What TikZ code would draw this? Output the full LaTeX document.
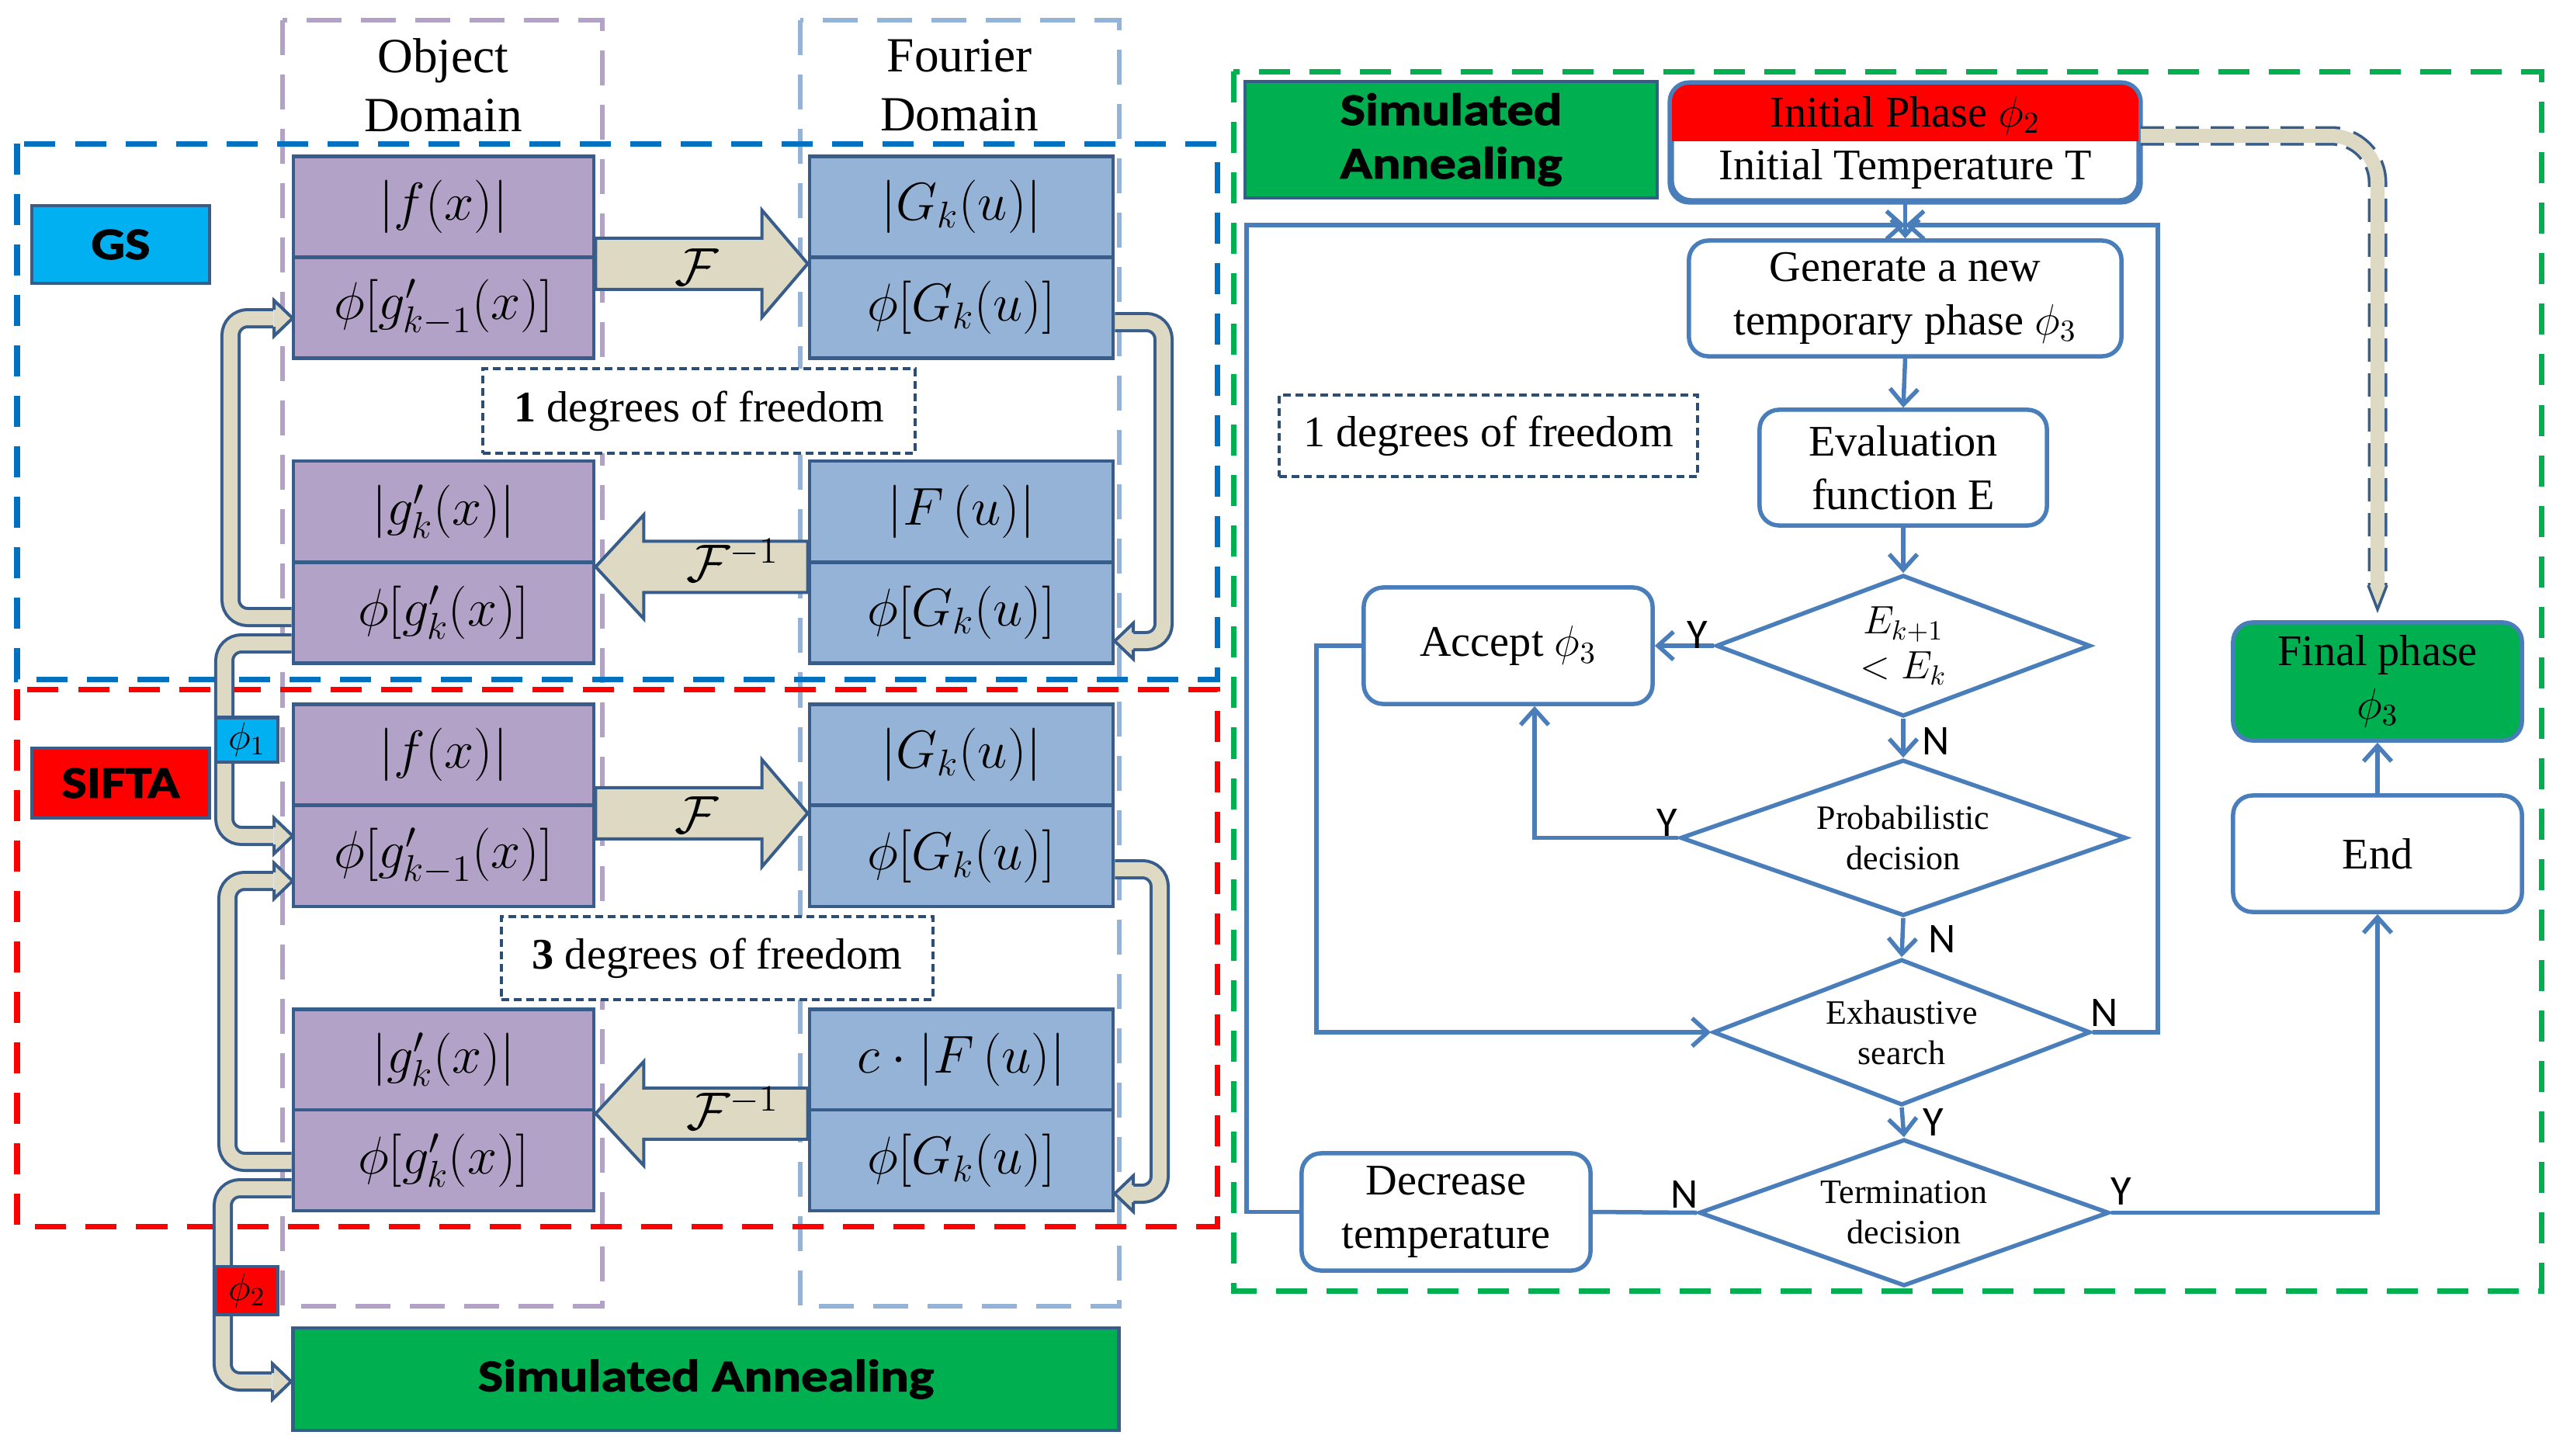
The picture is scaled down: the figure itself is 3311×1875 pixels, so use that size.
\RequirePackage{fix-cm}
\documentclass[tikz,border=0pt]{standalone}
\usepackage{fontspec}
\setmainfont{Liberation Serif}
\newfontfamily\lblfont[FakeStretch=1.18,BoldFeatures={FakeBold=2}]{Carlito}
\newfontfamily\ynfont{Carlito}
\usetikzlibrary{shapes.geometric,arrows.meta,calc}
\definecolor{purpleF}{HTML}{B3A2C7}
\definecolor{blueF}{HTML}{95B3D7}
\definecolor{bdr}{HTML}{385D8A}
\definecolor{beige}{HTML}{DDD9C3}
\definecolor{gsblue}{HTML}{0070C0}
\definecolor{redF}{HTML}{FF0000}
\definecolor{greenF}{HTML}{00B050}
\definecolor{cyanF}{HTML}{00B0F0}
\definecolor{flowc}{HTML}{4A7EBB}
\definecolor{dofc}{HTML}{2C4D75}
\newcommand{\fDom}{\fontsize{18}{21.6}\selectfont}
\newcommand{\fMath}{\fontsize{19.5}{22}\selectfont}
\newcommand{\fTxt}{\fontsize{16}{19.6}\selectfont}
\newcommand{\fDia}{\fontsize{12.5}{14.8}\selectfont}
\newcommand{\fLbl}{\fontsize{16.5}{19.6}\selectfont}
\newcommand{\fYN}{\fontsize{15.5}{18}\selectfont}
\newcommand{\fPhi}{\fontsize{14}{16}\selectfont}
\newcommand{\headR}[1]{%
 \fill[beige] ($(#1)+(-24,-23)$) -- (#1) -- ($(#1)+(-24,23)$) -- cycle;
 \draw[bdr,line width=0.04cm,line join=miter] ($(#1)+(-24,-11)$) -- ($(#1)+(-24,-23)$) -- (#1) -- ($(#1)+(-24,23)$) -- ($(#1)+(-24,11)$);}
\newcommand{\headL}[1]{%
 \fill[beige] ($(#1)+(24,-23)$) -- (#1) -- ($(#1)+(24,23)$) -- cycle;
 \draw[bdr,line width=0.04cm,line join=miter] ($(#1)+(24,-11)$) -- ($(#1)+(24,-23)$) -- (#1) -- ($(#1)+(24,23)$) -- ($(#1)+(24,11)$);}
\newcommand{\fatR}[2]{\draw[fat] ($(#1)+(0,-33)$) -- ($(#2)+(-59,-33)$) -- ($(#2)+(-59,-69)$) -- (#2) -- ($(#2)+(-59,69)$) -- ($(#2)+(-59,33)$) -- ($(#1)+(0,33)$) -- cycle;}
\newcommand{\fatL}[2]{\draw[fat] ($(#1)+(0,-33)$) -- ($(#2)+(62,-33)$) -- ($(#2)+(62,-67)$) -- (#2) -- ($(#2)+(62,67)$) -- ($(#2)+(62,33)$) -- ($(#1)+(0,33)$) -- cycle;}
\begin{document}
\begin{tikzpicture}[x=0.01cm,y=-0.01cm,
 pb/.style={draw=bdr,line width=0.045cm,fill=purpleF,minimum width=3.87cm,minimum height=1.3cm,inner sep=0pt,font=\fMath},
 bb/.style={pb,fill=blueF,minimum width=3.91cm},
 fat/.style={fill=beige,draw=bdr,line width=0.04cm,line join=miter},
 loopl/.style={draw=bdr,line width=0.04cm,double=beige,double distance=0.18cm,rounded corners=0.22cm},
 lbl/.style={draw=bdr,line width=0.045cm,font=\lblfont\bfseries\fLbl,inner sep=0pt,align=center},
 phib/.style={draw=bdr,line width=0.04cm,inner sep=0pt,font=\fPhi},
 dof/.style={draw=dofc,line width=0.035cm,dash pattern=on 0.1cm off 0.06cm,inner sep=0pt,font=\fTxt},
 coldash/.style={line width=0.06cm,dash pattern=on 0.45cm off 0.25cm},
 bigdash/.style={line width=0.07cm,dash pattern=on 0.4cm off 0.25cm},
 fbox/.style={draw=flowc,line width=0.055cm,rounded corners=0.25cm,fill=white,font=\fTxt,align=center,inner sep=0pt},
 dia/.style={diamond,draw=flowc,line width=0.055cm,fill=white,font=\fDia,align=center,inner sep=0pt,aspect=2.6},
 fl/.style={draw=flowc,line width=0.055cm},
 fla/.style={fl,-{Straight Barb[length=0.2cm,width=0.36cm]}},
 yn/.style={font=\ynfont\fYN,inner sep=0pt}]
\useasboundingbox (0,0) rectangle (3311,1875);
% ---------- left: domain columns and frames
\draw[coldash,draw=purpleF] (364,26) rectangle (776,1683);
\draw[coldash,draw=blueF] (1031,26) rectangle (1442,1683);
\node[font=\fDom,align=center] (objT) at (571,110) {Object\\Domain};
\node[font=\fDom,align=center] (fouT) at (1236,110) {Fourier\\Domain};
\draw[bigdash,draw=gsblue] (22,185) rectangle (1568,875);
\draw[bigdash,draw=redF] (22,888) rectangle (1568,1580);
\node[lbl,fill=cyanF,minimum width=2.29cm,minimum height=1.0cm] (gs) at (155.5,315) {GS};
\node[lbl,fill=redF,minimum width=2.29cm,minimum height=0.9cm] (sifta) at (155.5,1009) {SIFTA};
% ---------- boxes
\node[pb] (g1La) at (571.5,266.5) {$|f(x)|$};
\node[pb] (g1Lb) at (571.5,396.5) {$\phi[g'_{k-1}(x)]$};
\node[bb] (g1Ra) at (1238.5,266.5) {$|G_k(u)|$};
\node[bb] (g1Rb) at (1238.5,396.5) {$\phi[G_k(u)]$};
\node[pb] (g2La) at (571.5,659) {$|g'_k(x)|$};
\node[pb] (g2Lb) at (571.5,789.5) {$\phi[g'_k(x)]$};
\node[bb] (g2Ra) at (1238.5,659) {$|F\,(u)|$};
\node[bb] (g2Rb) at (1238.5,789.5) {$\phi[G_k(u)]$};
\node[pb] (s1La) at (571.5,972.5) {$|f(x)|$};
\node[pb] (s1Lb) at (571.5,1103) {$\phi[g'_{k-1}(x)]$};
\node[bb] (s1Ra) at (1238.5,972.5) {$|G_k(u)|$};
\node[bb] (s1Rb) at (1238.5,1103) {$\phi[G_k(u)]$};
\node[pb] (s2La) at (571.5,1365.5) {$|g'_k(x)|$};
\node[pb] (s2Lb) at (571.5,1495) {$\phi[g'_k(x)]$};
\node[bb] (s2Ra) at (1238.5,1365.5) {$c\cdot|F\,(u)|$};
\node[bb] (s2Rb) at (1238.5,1495) {$\phi[G_k(u)]$};
\node[lbl,fill=greenF,minimum width=10.63cm,minimum height=1.32cm] (saL) at (909.5,1777) {Simulated Annealing};
% ---------- loops
\draw[loopl] (g2Lb.west |- 0,795) -| (297,410) -- (352,410);
\coordinate (h1) at (377,410); \headR{h1}
\draw[loopl] (g1Rb.east |- 0,415) -| (1499,826) -- (1460,826);
\coordinate (h2) at (1436,826); \headL{h2}
\draw[loopl] (g2Lb.west |- 0,829) -| (289,1077) -- (352,1077);
\coordinate (h3) at (377,1077); \headR{h3}
\draw[loopl] (s2Lb.west |- 0,1497) -| (293,1135) -- (352,1135);
\coordinate (h4) at (377,1135); \headR{h4}
\draw[loopl] (s2Lb.west |- 0,1531) -| (287,1780) -- (350,1780);
\coordinate (h5) at (375,1780); \headR{h5}
\draw[loopl] (s1Rb.east |- 0,1120) -| (1494,1538) -- (1460,1538);
\coordinate (h6) at (1436,1538); \headL{h6}
\node[phib,fill=cyanF,minimum width=0.79cm,minimum height=0.57cm] (phi1) at (318,953) {$\phi_1$};
\node[phib,fill=redF,minimum width=0.8cm,minimum height=0.62cm] (phi2) at (318,1663) {$\phi_2$};
% ---------- fat arrows
\coordinate (fa1s) at ($(g1La.south east)+(0,6)$); \coordinate (fa1t) at ($(g1Ra.south west)+(0,6)$);
\fatR{fa1s}{fa1t}
\coordinate (fb1s) at ($(g2Ra.south west)+(0,4)$); \coordinate (fb1t) at ($(g2La.south east)+(0,4)$);
\fatL{fb1s}{fb1t}
\coordinate (fa2s) at ($(s1La.south east)+(0,8)$); \coordinate (fa2t) at ($(s1Ra.south west)+(0,8)$);
\fatR{fa2s}{fa2t}
\coordinate (fb2s) at ($(s2Ra.south west)+(0,2)$); \coordinate (fb2t) at ($(s2La.south east)+(0,2)$);
\fatL{fb2s}{fb2t}
\node[font=\fMath] (lF1) at (898,344) {$\mathcal{F}$};
\node[font=\fMath] (lF2) at (944,722) {$\mathcal{F}^{-1}$};
\node[font=\fMath] (lF3) at (898,1050) {$\mathcal{F}$};
\node[font=\fMath] (lF4) at (944,1428) {$\mathcal{F}^{-1}$};
\node[dof,fill=white,minimum width=5.57cm,minimum height=1.09cm] (dof1) at (900.5,529.5) {\textbf{1} degrees of freedom};
\node[dof,fill=white,minimum width=5.56cm,minimum height=1.07cm] (dof2) at (924,1234.5) {\textbf{3} degrees of freedom};
% ---------- right: simulated annealing flowchart
\draw[bigdash,draw=greenF] (1589,92) rectangle (3274,1663);
\node[lbl,fill=greenF,minimum width=5.31cm,minimum height=1.5cm] (saR) at (1869.5,180) {Simulated\\Annealing};
\node[fbox,minimum width=6.01cm,minimum height=1.49cm] (init) at (2454.5,183.5) {};
\begin{scope}
\clip (init.north west) rectangle (init.east |- 0,181);
\fill[redF,rounded corners=0.25cm] (init.north west) rectangle (init.south east);
\end{scope}
\draw[fl,rounded corners=0.25cm] (init.north west) rectangle (init.south east);
\node[font=\fTxt] (initA) at (2454.5,149) {Initial Phase $\phi_2$};
\node[font=\fTxt] (initB) at (2454.5,218) {Initial Temperature T};
\node[fbox,minimum width=5.57cm,minimum height=1.49cm] (gen) at (2454.5,384.5) {Generate a new\\temporary phase $\phi_3$};
\node[fbox,minimum width=3.70cm,minimum height=1.49cm] (eval) at (2452,602.5) {Evaluation\\function E};
\node[dof,minimum width=5.39cm,minimum height=1.05cm] (dof3) at (1917.5,561.5) {1 degrees of freedom};
\node[dia,minimum width=4.82cm,minimum height=1.82cm,font=\fontsize{14.5}{16.5}\selectfont] (d1) at (2452,832) {$E_{k+1}$\\$<E_k$};
\node[fbox,minimum width=3.72cm,minimum height=1.50cm] (acc) at (1943,832) {Accept $\phi_3$};
\node[dia,minimum width=5.74cm,minimum height=2.01cm] (d2) at (2452,1079.5) {Probabilistic\\decision};
\node[dia,minimum width=4.86cm,minimum height=1.88cm] (d3) at (2450,1330) {Exhaustive\\search};
\node[dia,minimum width=5.28cm,minimum height=1.89cm] (d4) at (2453,1562.5) {Termination\\decision};
\node[fbox,minimum width=3.72cm,minimum height=1.51cm] (dec) at (1863,1561.5) {Decrease\\temperature};
\node[fbox,minimum width=3.72cm,minimum height=1.50cm] (endb) at (3063,1100) {End};
\node[fbox,fill=greenF,minimum width=3.72cm,minimum height=1.52cm] (fin) at (3063,878) {Final phase\\$\phi_3$};
% connectors
\coordinate (topc) at (gen.north |- 0,290);
\draw[fla] (init.south) -- (gen.north);
\draw[fla] (dec.west) -| (1606,290) -- (topc);
\draw[fla] (d3.east) -| (2780,290) -- (topc);
\draw[fla] (gen.south) -- (eval.north);
\draw[fla] (eval.south) -- (d1.north);
\draw[fla] (d1.west) -- (acc.east);
\draw[fla] (d1.south) -- (d2.north);
\draw[fla] (d2.west) -| (acc.south -| 1977,0);
\draw[fla] (acc.west) -| (d3.west -| 1696,0) -- (d3.west);
\draw[fla] (d2.south) -- (d3.north);
\draw[fla] (d3.south) -- (d4.north);
\draw[fl] (d4.west) -- (dec.east);
\draw[fla] (d4.east) -| (endb.south);
\draw[fla] (endb.north) -- (fin.south);
% dashed beige arrow
\coordinate (dbs) at (init.east |- 0,175);
\coordinate (dbe) at ($(fin.north)+(0,-44)$);
\draw[bdr,line width=0.25cm,dash pattern=on 0.3cm off 0.15cm,rounded corners=0.6cm] (dbs) -| (dbe);
\draw[beige,line width=0.18cm,rounded corners=0.6cm] (dbs) -| (dbe);
\fill[beige] ($(dbe)+(-12,-1)$) -- ($(fin.north)+(0,-14)$) -- ($(dbe)+(12,-1)$) -- cycle;
\draw[bdr,line width=0.035cm] ($(dbe)+(-12,-1)$) -- ($(fin.north)+(0,-14)$) -- ($(dbe)+(12,-1)$);
% Y/N labels
\node[yn] (y1) at (2187,818) {Y};
\node[yn] (n1) at (2494,955) {N};
\node[yn] (y2) at (2148,1060) {Y};
\node[yn] (n2) at (2502,1210) {N};
\node[yn] (n3) at (2711,1305) {N};
\node[yn] (y3) at (2491,1446) {Y};
\node[yn] (n4) at (2170,1539) {N};
\node[yn] (y4) at (2733,1535) {Y};
\end{tikzpicture}
\end{document}
